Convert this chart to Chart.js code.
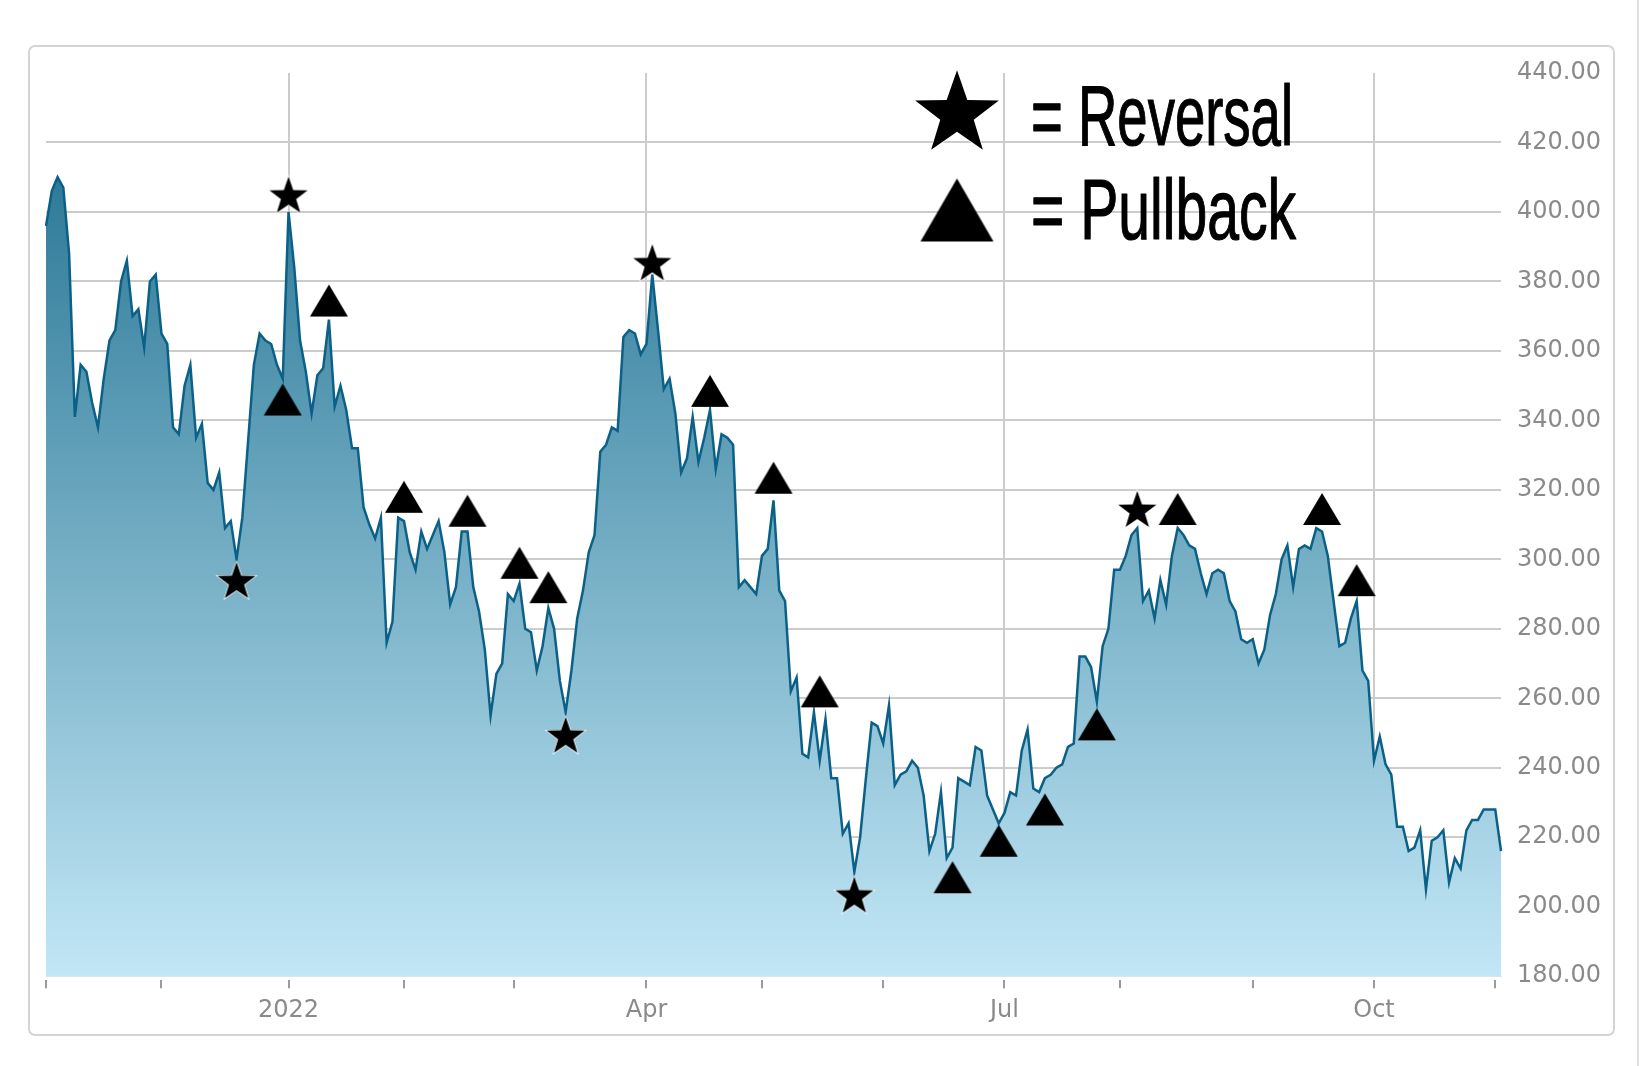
<!DOCTYPE html>
<html>
<head>
<meta charset="utf-8">
<script src="https://cdn.jsdelivr.net/npm/chart.js@4.4.0/dist/chart.umd.min.js"></script>
<style>
  html, body { margin: 0; padding: 0; background: #fff; }
  body { width: 1644px; height: 1066px; position: relative; overflow: hidden; }
  .card { position: absolute; left: 28px; top: 45px; width: 1587px; height: 991px; border: 2px solid #d4d4d4; border-radius: 7px; box-sizing: border-box; background: #fff; }
  .edge { position: absolute; left: 1637px; top: 0; width: 2px; height: 1066px; background: #e0e0e0; }
  #priceChart { position: absolute; left: 0; top: 0; }
</style>
</head>
<body>
<div class="card"></div>
<div class="edge"></div>
<canvas id="priceChart" width="1644" height="1066"></canvas>
<script>
// setup block
const firstDay = '2021-11-02';
const lastDay = '2022-11-02';
const holidays = ['2021-11-25', '2021-12-24', '2022-01-17', '2022-02-21', '2022-04-15',
  '2022-05-30', '2022-06-20', '2022-07-04', '2022-09-05'];
const quarterNames = ['2022', '', '', 'Apr', '', '', 'Jul', '', '', 'Oct', '', ''];
const yTicks = [180, 200, 220, 240, 260, 280, 300, 320, 340, 360, 380, 400, 420, 440];

// daily closes, one per trading day
const closes = [
  396, 406, 410, 407, 388, 341, 356, 354, 345, 338, 352, 363, 366, 380, 386, 370, 372, 361, 380, 382,
  365, 362, 338, 336, 350, 356, 335, 339, 322, 320, 325, 309, 311, 300, 312, 334, 356, 365, 363, 362, 356, 352,
  400, 384, 363, 354, 342, 353, 355, 369, 344, 350, 343, 332, 332, 315, 310, 306, 312, 276, 282, 312,
  311, 302, 297, 308, 303, 307, 311, 302, 287, 292, 308, 308, 292, 285, 274, 255, 267, 270, 290,
  288, 293, 280, 279, 268, 275, 286, 280, 265, 256, 268, 283, 291, 302, 307, 331, 333, 338, 337, 364, 366, 365, 359,
  362, 382, 366, 349, 352, 342, 325, 329, 341, 328, 335, 343, 326, 336, 335, 333, 292, 294, 292, 290,
  301, 303, 317, 291, 288, 262, 266, 244, 243, 256, 242, 254, 237, 237, 221, 224, 210, 220, 237, 253, 252,
  247, 258, 235, 238, 239, 242, 240, 232, 216, 221, 233, 214, 217, 237, 236, 235, 246, 245, 232, 228, 224,
  227, 233, 232, 245, 251, 234, 233, 237, 238, 240, 241, 246, 247, 272, 272, 269, 259, 275, 280, 297,
  297, 301, 307, 309, 288, 291, 283, 294, 287, 301, 309, 307, 304, 303, 296, 290, 296, 297, 296, 288, 285, 277, 276,
  277, 270, 274, 284, 290, 300, 304, 292, 303, 304, 303, 309, 308, 301, 288, 275, 276, 283, 288, 268, 265,
  242, 249, 241, 238, 223, 223, 216, 217, 222, 205, 219, 220, 222, 207, 214, 211, 222, 225, 225, 228, 228,
  228, 216
];

// markers: where they sit and at what price level
const reversalDates = ['2021-12-20', '2022-01-03', '2022-03-14', '2022-04-04', '2022-05-24', '2022-08-04'];
const reversalLevels = [294, 405, 249.5, 385.5, 203.5, 314.5];
const pullbackDates = ['2021-12-31', '2022-01-12', '2022-02-01', '2022-02-16', '2022-03-02', '2022-03-09',
  '2022-04-19', '2022-05-04', '2022-05-16', '2022-06-17', '2022-06-30', '2022-07-13', '2022-07-26',
  '2022-08-15', '2022-09-20', '2022-09-28'];
const pullbackLevels = [346, 374.5, 318, 314, 299, 292, 348.5, 323.5, 262, 208.5, 219, 228, 252.5,
  314.5, 314.5, 294];

// trading day categories
const labels = [];
for (let d = new Date(firstDay + 'T00:00:00Z'); d <= new Date(lastDay + 'T00:00:00Z'); d.setUTCDate(d.getUTCDate() + 1)) {
  const s = d.toISOString().slice(0, 10);
  const wd = d.getUTCDay();
  if (wd === 0 || wd === 6 || holidays.includes(s)) continue;
  labels.push(s);
}
// first trading day of each month gets a tick mark
const monthStart = labels.map((s, i) => i === 0 || s.slice(0, 7) !== labels[i - 1].slice(0, 7));
const tickText = labels.map((s, i) => {
  if (!monthStart[i] || s.slice(0, 4) !== '2022') return '';
  return quarterNames[Number(s.slice(5, 7)) - 1];
});

// marker shapes
function makeStar(outer) {
  const inner = outer * 0.4;
  const c = document.createElement('canvas');
  c.width = Math.ceil(outer * 2 + 4);
  c.height = c.width;
  const g = c.getContext('2d');
  const cx = c.width / 2, cy = c.height / 2 + outer * 0.0955;
  g.beginPath();
  for (let k = 0; k < 10; k++) {
    const r = k % 2 ? inner : outer;
    const a = -Math.PI / 2 + k * Math.PI / 5;
    g.lineTo(cx + r * Math.cos(a), cy + r * Math.sin(a));
  }
  g.closePath();
  g.lineWidth = 1.5;
  g.strokeStyle = '#fff';
  g.stroke();
  g.fillStyle = '#000';
  g.fill();
  return c;
}
function makeTriangle(w, h) {
  const c = document.createElement('canvas');
  c.width = w + 4;
  c.height = h + 4;
  const g = c.getContext('2d');
  g.beginPath();
  g.moveTo(c.width / 2, 2);
  g.lineTo(c.width - 2, h + 2);
  g.lineTo(2, h + 2);
  g.closePath();
  g.fillStyle = '#000';
  g.fill();
  return c;
}
const starMark = makeStar(20);
const triMark = makeTriangle(38, 32);
const starKey = makeStar(44);
const triKey = makeTriangle(73, 63);

// key block (top right text)
const markerKey = {
  id: 'markerKey',
  afterDraw(chart) {
    const ctx = chart.ctx;
    ctx.save();
    ctx.drawImage(starKey, 957 - starKey.width / 2, 110 - starKey.height / 2);
    ctx.drawImage(triKey, 957 - triKey.width / 2, 210 - triKey.height / 2);
    ctx.font = '85px "Liberation Sans Narrow", "Liberation Sans", sans-serif';
    ctx.fillStyle = '#000';
    ctx.strokeStyle = '#000';
    ctx.lineWidth = 1.2;
    ctx.lineJoin = 'round';
    ctx.textBaseline = 'alphabetic';
    const rows = [['= Reversal', 145, 262], ['= Pullback', 239, 265]];
    rows.forEach(([txt, base, w]) => {
      const sx = w / ctx.measureText(txt).width;
      ctx.save();
      ctx.translate(1031, base);
      ctx.scale(sx, 1);
      ctx.fillText(txt, 0, 0);
      ctx.strokeText(txt, 0, 0);
      ctx.restore();
    });
    ctx.restore();
  }
};

const axisFont = { family: '"DejaVu Sans", Verdana, sans-serif', size: 24 };

// config block
const config = {
  type: 'line',
  data: {
    labels: labels,
    datasets: [{
      label: 'Reversal',
      data: reversalDates.map((d, i) => ({ x: d, y: reversalLevels[i] })),
      showLine: false,
      pointStyle: starMark,
      pointRadius: 20,
      order: 0
    }, {
      label: 'Pullback',
      data: pullbackDates.map((d, i) => ({ x: d, y: pullbackLevels[i] })),
      showLine: false,
      pointStyle: triMark,
      pointRadius: 20,
      order: 0
    }, {
      label: 'Close',
      data: closes,
      borderColor: '#0b6088',
      borderWidth: 2.5,
      pointRadius: 0,
      tension: 0,
      fill: 'start',
      backgroundColor: (c) => {
        const { ctx, chartArea } = c.chart;
        if (!chartArea) return 'rgba(27,108,140,0.6)';
        const g = ctx.createLinearGradient(0, chartArea.top, 0, chartArea.bottom);
        g.addColorStop(0, 'rgb(27,108,140)');
        g.addColorStop(1, 'rgb(194,231,246)');
        return g;
      },
      order: 1
    }]
  },
  options: {
    responsive: false,
    animation: false,
    events: [],
    layout: { padding: { left: 46, top: 73, right: 27, bottom: 33 } },
    scales: {
      x: {
        offset: false,
        border: { color: '#e2e2e2', width: 1 },
        grid: {
          color: (c) => (tickText[c.index] ? '#cccccc' : 'transparent'),
          tickColor: (c) => (monthStart[c.index] ? '#9a9a9a' : 'transparent'),
          lineWidth: 2,
          tickWidth: 2,
          tickLength: 12,
          tickBorderDash: [0, 3, 9, 0]
        },
        ticks: {
          autoSkip: false,
          maxRotation: 0,
          padding: 8,
          font: axisFont,
          color: '#8a8a8a',
          callback: (v, i) => tickText[i]
        }
      },
      y: {
        position: 'right',
        min: yTicks[0],
        max: yTicks[yTicks.length - 1],
        border: { display: false },
        grid: {
          color: (c) => (c.tick && (c.tick.value === 440 || c.tick.value === 180) ? 'transparent' : '#cccccc'),
          lineWidth: 2,
          drawTicks: false
        },
        afterBuildTicks: (scale) => { scale.ticks = yTicks.map(v => ({ value: v })); },
        ticks: {
          padding: 16,
          font: axisFont,
          color: '#8a8a8a',
          callback: (v) => Number(v).toFixed(2)
        }
      }
    },
    plugins: {
      legend: { display: false },
      tooltip: { enabled: false }
    }
  },
  plugins: [markerKey]
};

// render init block
const priceChart = new Chart(document.getElementById('priceChart'), config);
</script>
</body>
</html>
